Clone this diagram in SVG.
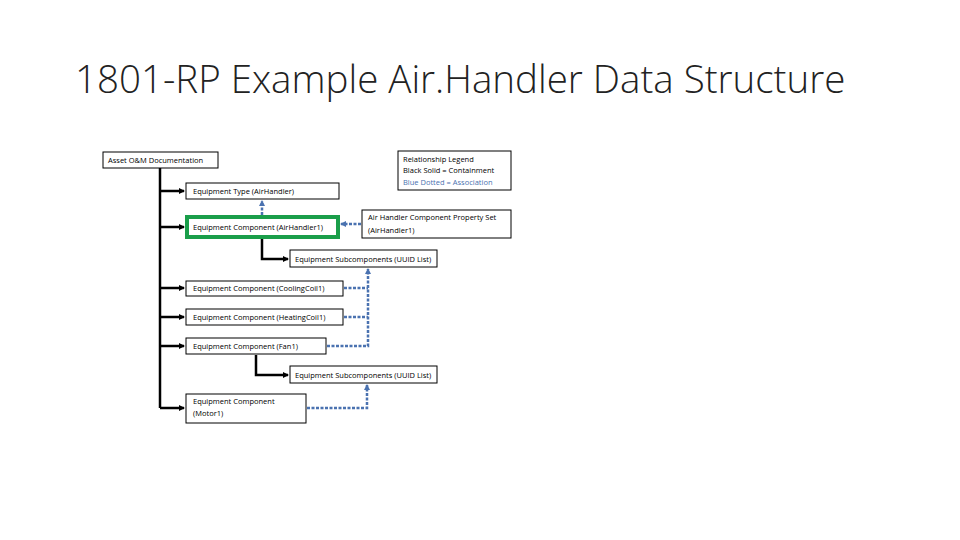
<svg xmlns="http://www.w3.org/2000/svg" width="960" height="540" viewBox="0 0 960 540">
<defs>
<marker id="ab" markerWidth="6" markerHeight="6" refX="5" refY="3" orient="auto" markerUnits="userSpaceOnUse" viewBox="0 0 6 6"><path d="M0,0 L6,3 L0,6 z" fill="#000"/></marker>
<marker id="au" markerWidth="6" markerHeight="6" refX="5" refY="3" orient="auto" markerUnits="userSpaceOnUse" viewBox="0 0 6 6"><path d="M0,0 L6,3 L0,6 z" fill="#4a72b0"/></marker>
</defs>
<style>
.b{fill:#fff;stroke:#000;stroke-width:1}
.t{font-family:"Open Sans","Liberation Sans",sans-serif;font-size:7.5px;fill:#000}
.k{fill:none;stroke:#000;stroke-width:2.5}
.u{fill:none;stroke:#4a72b0;stroke-width:2.5;stroke-dasharray:3,1.5}
</style>
<rect width="960" height="540" fill="#fff"/>
<text x="75" y="93" font-family="Open Sans, Liberation Sans, sans-serif" font-weight="300" font-size="38.5" fill="#222">1801-RP Example Air.Handler Data Structure</text>
<g id="connectors">
<path class="k" d="M160,168 V408"/>
<path class="k" d="M160,191 H184" marker-end="url(#ab)"/>
<path class="k" d="M160,227 H184" marker-end="url(#ab)"/>
<path class="k" d="M160,288 H184" marker-end="url(#ab)"/>
<path class="k" d="M160,317 H184" marker-end="url(#ab)"/>
<path class="k" d="M160,346 H184" marker-end="url(#ab)"/>
<path class="k" d="M160,408 H184" marker-end="url(#ab)"/>
<path class="k" d="M262,239 V259 H288" marker-end="url(#ab)"/>
<path class="k" d="M256,355 V375 H288" marker-end="url(#ab)"/>
<path class="u" d="M262,215 V201" marker-end="url(#au)"/>
<path class="u" d="M361,224 H341" marker-end="url(#au)"/>
<path class="u" d="M344,288 H368 M344,317 H368 M327,346 H368 V269" marker-end="url(#au)"/>
<path class="u" d="M307,408 H367 V385" marker-end="url(#au)"/>
</g>
<g id="asset"><rect class="b" x="103" y="152" width="115" height="16"/><text class="t" x="108" y="163">Asset O&amp;M Documentation</text></g>
<g id="legend"><rect class="b" x="398" y="151" width="113" height="39"/><text class="t" x="403" y="162">Relationship Legend</text><text class="t" x="403" y="173">Black Solid = Containment</text><text class="t" x="403" y="185" style="fill:#4a72b0">Blue Dotted = Association</text></g>
<g id="type"><rect class="b" x="186" y="183" width="153" height="16"/><text class="t" x="193" y="194">Equipment Type (AirHandler)</text></g>
<g id="ah1"><rect x="187" y="217" width="151" height="20" fill="#fff" stroke="#1a9e4a" stroke-width="4"/><text class="t" x="193" y="230">Equipment Component (AirHandler1)</text></g>
<g id="propset"><rect class="b" x="362" y="210" width="149" height="28"/><text class="t" x="368" y="220">Air Handler Component Property Set</text><text class="t" x="368" y="233">(AirHandler1)</text></g>
<g id="sub1"><rect class="b" x="290" y="250" width="147" height="17"/><text class="t" x="295" y="262">Equipment Subcomponents (UUID List)</text></g>
<g id="cc1"><rect class="b" x="186" y="281" width="157" height="15"/><text class="t" x="193" y="291">Equipment Component (CoolingCoil1)</text></g>
<g id="hc1"><rect class="b" x="186" y="309" width="157" height="16"/><text class="t" x="193" y="320">Equipment Component (HeatingCoil1)</text></g>
<g id="fan1"><rect class="b" x="186" y="338" width="140" height="16"/><text class="t" x="193" y="349">Equipment Component (Fan1)</text></g>
<g id="sub2"><rect class="b" x="290" y="366" width="147" height="17"/><text class="t" x="295" y="378">Equipment Subcomponents (UUID List)</text></g>
<g id="motor1"><rect class="b" x="186" y="394" width="120" height="29"/><text class="t" x="193" y="404">Equipment Component</text><text class="t" x="193" y="416">(Motor1)</text></g>
</svg>
